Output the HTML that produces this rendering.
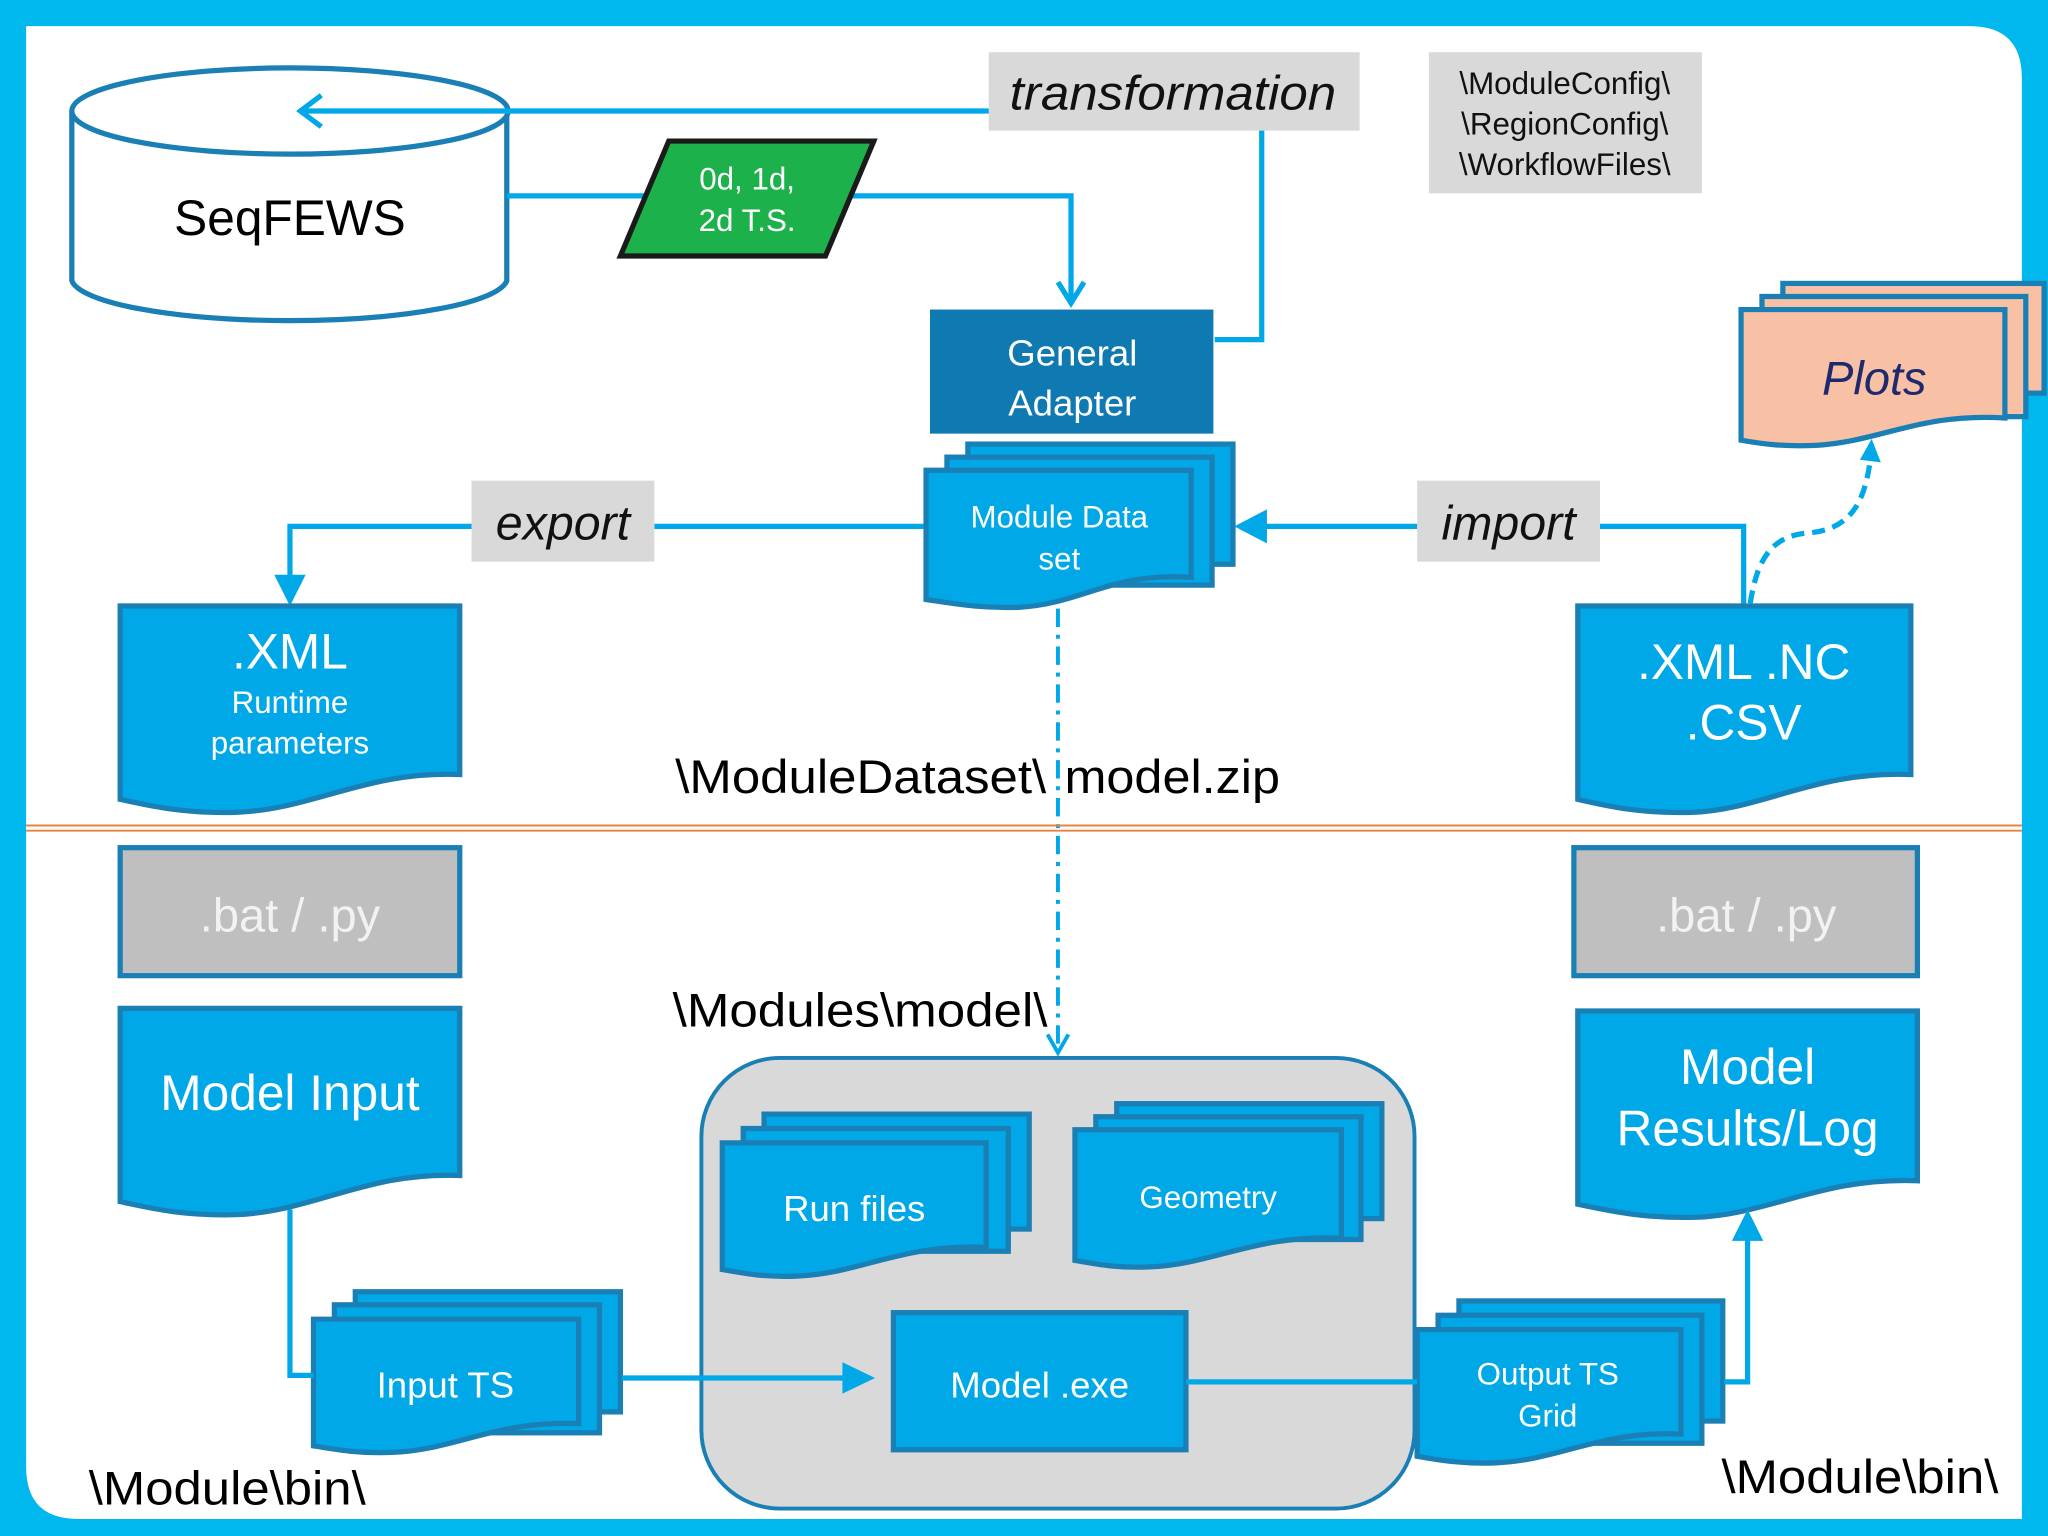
<!DOCTYPE html>
<html><head><meta charset="utf-8"><style>
html,body{margin:0;padding:0;width:2048px;height:1536px;overflow:hidden;background:#00b8ee}
svg{display:block}
text{font-family:"Liberation Sans",sans-serif}
</style></head><body>
<svg width="2048" height="1536" viewBox="0 0 1568 1176" preserveAspectRatio="none" xmlns="http://www.w3.org/2000/svg">
<rect width="1568" height="1176" fill="#00b8ee"/>
<path d="M20,20 H1508 Q1548,20 1548,60 V1163 H60 Q20,1163 20,1123 Z" fill="#ffffff"/>

<!-- cylinder -->
<path d="M55,85 V215 A167,33 0 0 0 388,215 V85" fill="#fff" stroke="#1a7fb5" stroke-width="4"/>
<ellipse cx="222" cy="85" rx="167" ry="33" fill="#fff" stroke="#1a7fb5" stroke-width="4"/>
<text x="222" y="180" font-size="38" text-anchor="middle" fill="#000">SeqFEWS</text>

<!-- transformation -->
<rect x="757" y="40" width="284" height="60" fill="#d9d9d9"/>
<text x="773" y="84" font-size="37" font-style="italic" fill="#111" textLength="250" lengthAdjust="spacingAndGlyphs">transformation</text>
<line x1="757" y1="85" x2="232" y2="85" stroke="#00a8e8" stroke-width="4"/>
<path d="M246,73 L230,85 L246,97" fill="none" stroke="#00a8e8" stroke-width="4"/>
<path d="M966,100 V260 H930" fill="none" stroke="#00a8e8" stroke-width="4"/>

<rect x="1094" y="40" width="209" height="108" fill="#d9d9d9"/>
<text font-size="24" fill="#111" text-anchor="middle"><tspan x="1198" y="72">\ModuleConfig\</tspan><tspan x="1198" y="103">\RegionConfig\</tspan><tspan x="1198" y="134">\WorkflowFiles\</tspan></text>

<!-- green parallelogram -->
<path d="M388,150 H820 V230" fill="none" stroke="#00a8e8" stroke-width="4"/>
<path d="M810,216 L820,232 L830,216" fill="none" stroke="#00a8e8" stroke-width="4"/>
<polygon points="512,108 669,108 632,196 475,196" fill="#1db14b" stroke="#1a1a1a" stroke-width="4"/>
<text font-size="24" fill="#fff" text-anchor="middle"><tspan x="572" y="145">0d, 1d,</tspan><tspan x="572" y="177">2d T.S.</tspan></text>

<!-- General adapter -->
<rect x="712" y="237" width="217" height="95" fill="#0f79b1"/>
<text font-size="28" fill="#fff" text-anchor="middle"><tspan x="821" y="280">General</tspan><tspan x="821" y="318">Adapter</tspan></text>

<!-- connectors middle -->
<path d="M709,403 H501" stroke="#00a8e8" stroke-width="4"/>
<path d="M361,403 H222 V458" fill="none" stroke="#00a8e8" stroke-width="4"/>
<path d="M210,440 L222,464 L234,440 z" fill="#00a8e8"/>
<path d="M1335,464 V403 H1225" fill="none" stroke="#00a8e8" stroke-width="4"/>
<path d="M1085,403 H960" stroke="#00a8e8" stroke-width="4"/>
<path d="M970,390 L945,403 L970,416 z" fill="#00a8e8"/>
<rect x="361" y="368" width="140" height="62" fill="#d9d9d9"/>
<text x="431" y="413" font-size="37" font-style="italic" text-anchor="middle" fill="#111">export</text>
<rect x="1085" y="368" width="140" height="62" fill="#d9d9d9"/>
<text x="1155" y="413" font-size="37" font-style="italic" text-anchor="middle" fill="#111">import</text>

<!-- Module data set stack -->
<g fill="#00a8e8" stroke="#1a7fb5" stroke-width="4">
<rect x="741" y="340" width="203" height="92"/>
<rect x="725" y="350" width="203" height="98"/>
<path d="M709,360 H912 V442 C850,438 830,462 780,465 C750,466 730,462 709,459 Z"/>
</g>
<text font-size="24" fill="#fff" text-anchor="middle"><tspan x="811" y="404">Module Data</tspan><tspan x="811" y="436">set</tspan></text>
<line x1="810" y1="466" x2="810" y2="802" stroke="#00a8e8" stroke-width="3" stroke-dasharray="14,6,3,6"/>
<path d="M802,792 L810,806 L818,792" fill="none" stroke="#00a8e8" stroke-width="3"/>

<!-- docs -->
<g fill="#00a8e8" stroke="#1a7fb5" stroke-width="4">
<path d="M92,464 H352 V593 C280,590 240,620 180,622 C140,623 115,617 92,612 Z"/>
<path d="M1208,464 H1463 V593 C1390,590 1350,620 1295,622 C1255,623 1230,617 1208,612 Z"/>
<path d="M92,772 H352 V900 C280,897 240,928 180,930 C140,931 115,925 92,920 Z"/>
<path d="M1208,774 H1468 V904 C1395,901 1355,930 1298,932 C1258,933 1232,927 1208,922 Z"/>
</g>
<text x="222" y="512" font-size="38" fill="#fff" text-anchor="middle">.XML</text>
<text font-size="24" fill="#fff" text-anchor="middle"><tspan x="222" y="546">Runtime</tspan><tspan x="222" y="577">parameters</tspan></text>
<text font-size="38" fill="#fff" text-anchor="middle"><tspan x="1335" y="520">.XML  .NC</tspan><tspan x="1335" y="566">.CSV</tspan></text>
<text x="222" y="850" font-size="38" fill="#fff" text-anchor="middle">Model Input</text>
<text font-size="38" fill="#fff" text-anchor="middle"><tspan x="1338" y="830">Model</tspan><tspan x="1338" y="877">Results/Log</tspan></text>

<!-- Plots -->
<g fill="#f8c0a4" stroke="#1a7fb5" stroke-width="4">
<rect x="1365" y="217" width="200" height="84"/>
<rect x="1349" y="227" width="202" height="92"/>
<path d="M1333,237 H1535 V320 C1470,316 1440,338 1390,341 C1365,342 1350,340 1333,337 Z"/>
</g>
<text x="1435" y="302" font-size="36" font-style="italic" fill="#1f2a6e" text-anchor="middle">Plots</text>
<path d="M1340,462 C1345,430 1355,410 1385,408 C1420,405 1428,380 1432,352" fill="none" stroke="#00a8e8" stroke-width="4" stroke-dasharray="10,6"/>
<path d="M1424,352 L1433,336 L1440,354 z" fill="#00a8e8"/>

<!-- orange line -->
<line x1="20" y1="632" x2="1548" y2="632" stroke="#e8843c" stroke-width="1.5"/>
<line x1="20" y1="636" x2="1548" y2="636" stroke="#e8843c" stroke-width="1.5"/>

<text x="517" y="607" font-size="36" fill="#000" textLength="284" lengthAdjust="spacingAndGlyphs">\ModuleDataset\</text>
<text x="815" y="607" font-size="36" fill="#000" textLength="165" lengthAdjust="spacingAndGlyphs">model.zip</text>
<text x="515" y="786" font-size="36" fill="#000" textLength="287" lengthAdjust="spacingAndGlyphs">\Modules\model\</text>

<!-- bat boxes -->
<rect x="92" y="649" width="260" height="98" fill="#bfbfbf" stroke="#1a7fb5" stroke-width="4"/>
<text x="222" y="713" font-size="36" fill="#f2f2f2" text-anchor="middle">.bat / .py</text>
<rect x="1205" y="649" width="263" height="98" fill="#bfbfbf" stroke="#1a7fb5" stroke-width="4"/>
<text x="1337" y="713" font-size="36" fill="#f2f2f2" text-anchor="middle">.bat / .py</text>

<!-- big gray rect -->
<rect x="537" y="810" width="546" height="345" rx="60" fill="#d9d9d9" stroke="#1a7fb5" stroke-width="3"/>

<g fill="#00a8e8" stroke="#1a7fb5" stroke-width="4">
<rect x="585" y="853" width="203" height="88"/>
<rect x="569" y="864" width="203" height="94"/>
<path d="M553,875 H755 V955 C690,952 660,975 610,977 C585,978 570,975 553,972 Z"/>
<rect x="855" y="845" width="203" height="88"/>
<rect x="839" y="855" width="203" height="94"/>
<path d="M823,865 H1027 V948 C960,945 930,968 880,970 C855,971 840,968 823,965 Z"/>
<rect x="684" y="1005" width="224" height="105"/>
<rect x="272" y="989" width="203" height="92"/>
<rect x="256" y="999" width="203" height="98"/>
<path d="M240,1010 H443 V1090 C380,1087 350,1110 300,1112 C275,1113 258,1110 240,1107 Z"/>
<rect x="1117" y="996" width="202" height="92"/>
<rect x="1101" y="1007" width="202" height="98"/>
<path d="M1085,1018 H1287 V1098 C1225,1095 1195,1118 1145,1120 C1120,1121 1102,1118 1085,1115 Z"/>
</g>
<text x="654" y="935" font-size="28" fill="#fff" text-anchor="middle">Run files</text>
<text x="925" y="925" font-size="24" fill="#fff" text-anchor="middle">Geometry</text>
<text x="796" y="1070" font-size="28" fill="#fff" text-anchor="middle">Model .exe</text>
<text x="341" y="1070" font-size="28" fill="#fff" text-anchor="middle">Input TS</text>
<text font-size="24" fill="#fff" text-anchor="middle"><tspan x="1185" y="1060">Output TS</tspan><tspan x="1185" y="1092">Grid</tspan></text>

<!-- bottom connectors -->
<path d="M222,926 V1053 H240" fill="none" stroke="#00a8e8" stroke-width="4"/>
<path d="M476,1055 H650" stroke="#00a8e8" stroke-width="4"/>
<path d="M645,1043 L670,1055 L645,1067 z" fill="#00a8e8"/>
<path d="M908,1058 H1085" stroke="#00a8e8" stroke-width="4"/>
<path d="M1320,1058 H1338 V945" fill="none" stroke="#00a8e8" stroke-width="4"/>
<path d="M1326,950 L1338,926 L1350,950 z" fill="#00a8e8"/>

<text x="68" y="1152" font-size="36" fill="#000" textLength="212" lengthAdjust="spacingAndGlyphs">\Module\bin\</text>
<text x="1318" y="1143" font-size="36" fill="#000" textLength="212" lengthAdjust="spacingAndGlyphs">\Module\bin\</text>
</svg>
</body></html>
